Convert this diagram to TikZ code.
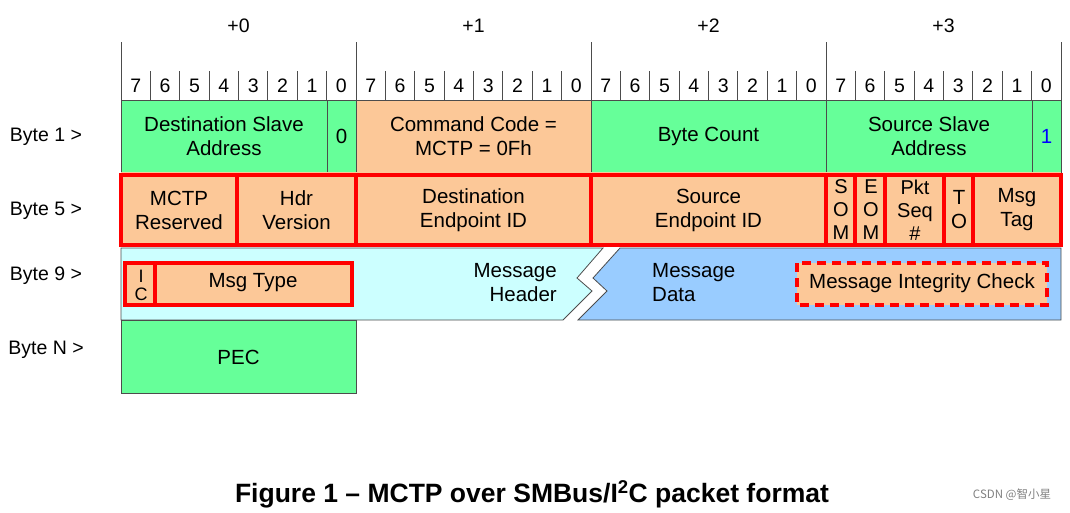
\documentclass[tikz,border=0pt]{standalone}
\usepackage{fontspec}
\setmainfont{Liberation Sans}
\newfontfamily\cjk{Noto Sans CJK SC}
\begin{document}
\begin{tikzpicture}[x=1pt,y=-1pt,
  fld/.style={draw=black!70,line width=0.8pt},
  red/.style={draw=red,line width=3.2pt},
  lbl/.style={font=\fontsize{20.5}{24}\selectfont,align=center,inner sep=0pt},
  stk/.style={font=\fontsize{20}{23}\selectfont,align=center,inner sep=0pt},
  bit/.style={font=\fontsize{19.5}{22}\selectfont,inner sep=0pt}]
\useasboundingbox (0,0) rectangle (1070,512);
\definecolor{gr}{HTML}{66FF99}
\definecolor{or}{HTML}{FCC898}
\definecolor{cy}{HTML}{CCFFFF}
\definecolor{bl}{HTML}{99CCFF}
% byte headers
\foreach \i/\t in {0/+0,1/+1,2/+2,3/+3}{
  \node[bit] (h\i) at ({238.5+235*\i},26) {\t};}
\foreach \x in {121,356,591,826,1061}{\draw[black!70,line width=1pt] (\x,42) -- (\x,100);}
\foreach \b in {0,...,31}{
  \pgfmathtruncatemacro\n{7-mod(\b,8)}
  \node[bit] (b\b) at ({121+29.375*\b+14.7},86) {\n};
  \draw[black!70,line width=0.8pt] ({121+29.375*\b},71) -- ({121+29.375*\b},100);}
\draw[black!70,line width=0.8pt] (121,100) -- (1061,100);
% row 1
\fill[gr] (121,100) rectangle (356,172);
\fill[or] (356,100) rectangle (591,172);
\fill[gr] (591,100) rectangle (1061,172);
\draw[fld] (121,100) rectangle (1061,172);
\foreach \x in {327,356,591,826,1032}{\draw[fld] (\x,100) -- (\x,172);}
\node[lbl] (dsa) at (224,136) {Destination Slave\\Address};
\node[lbl] (z0) at (341.5,136) {0};
\node[lbl] (cc) at (473.5,136) {Command Code =\\MCTP = 0Fh};
\node[lbl] (bc) at (708.5,136) {Byte Count};
\node[lbl] (ssa) at (929,136) {Source Slave\\Address};
\node[lbl,text=blue] (o1) at (1046.5,136) {1};
% row 2
\fill[or] (121,172) rectangle (1061,247);
\foreach \a/\b in {121/237,237/356,356/591,591/826,826/855,855/885,885/944,944/973,973/1061}{
  \draw[red] (\a,175) rectangle (\b,245);}
\node[lbl] (mr) at (179,210) {MCTP\\Reserved};
\node[lbl] (hv) at (296.5,210) {Hdr\\Version};
\node[lbl] (de) at (473.5,210) {Destination\\Endpoint ID};
\node[lbl] (se) at (708.5,210) {Source\\Endpoint ID};
\node[stk] (som) at (841,210) {S\\O\\M};
\node[stk] (eom) at (871,210) {E\\O\\M};
\node[stk] (psn) at (915,210) {Pkt\\Seq\\\#};
\node[lbl] (to) at (959,210) {T\\O};
\node[lbl] (tag) at (1017,210) {Msg\\Tag};
% row 3
\fill[cy,draw=black!70,line width=0.8pt] (121,248) -- (603,248) -- (577,278) -- (592,291) -- (563,320) -- (121,320) -- cycle;
\fill[bl,draw=black!70,line width=0.8pt] (620,248) -- (1061,248) -- (1061,320) -- (578,320) -- (607,291) -- (593,278) -- cycle;
\fill[or] (125,262) rectangle (353,306);
\draw[red] (125,263) rectangle (155,305);
\draw[red] (155,263) rectangle (352,305);
\node[font=\fontsize{18}{18}\selectfont,align=center,inner sep=0pt] (ic) at (141,285) {I\\C};
\node[lbl] (mt) at (253,283) {Msg Type};
\node[lbl,align=right,anchor=east] (mh) at (557,283) {Message\\Header};
\node[lbl,align=left,anchor=west] (md) at (652,283) {Message\\Data};
\fill[or] (797,263) rectangle (1047,305);
\draw[red,dash pattern=on 9pt off 6pt] (797,263) rectangle (1047,305);
\node[lbl] (mic) at (922,283) {Message Integrity Check};
% row N
\fill[gr,draw=black!70,line width=0.8pt] (121,320) rectangle (356,393);
\node[lbl] (pec) at (238.5,357) {PEC};
% row labels
\node[bit] (r1) at (46,137) {Byte 1 >};
\node[bit] (r5) at (46,211) {Byte 5 >};
\node[bit] (r9) at (46,276) {Byte 9 >};
\node[bit] (rn) at (46,350) {Byte N >};
% caption
\node[font=\bfseries\fontsize{26.5}{28}\selectfont,inner sep=0pt] (cap) at (532,494) {Figure 1 – MCTP over SMBus/I\textsuperscript{2}C packet format};
\node[font=\cjk\fontsize{11.5}{13}\selectfont,text=black!50,inner sep=0pt] (wm) at (1012,495) {CSDN @智小星};
\end{tikzpicture}
\end{document}
